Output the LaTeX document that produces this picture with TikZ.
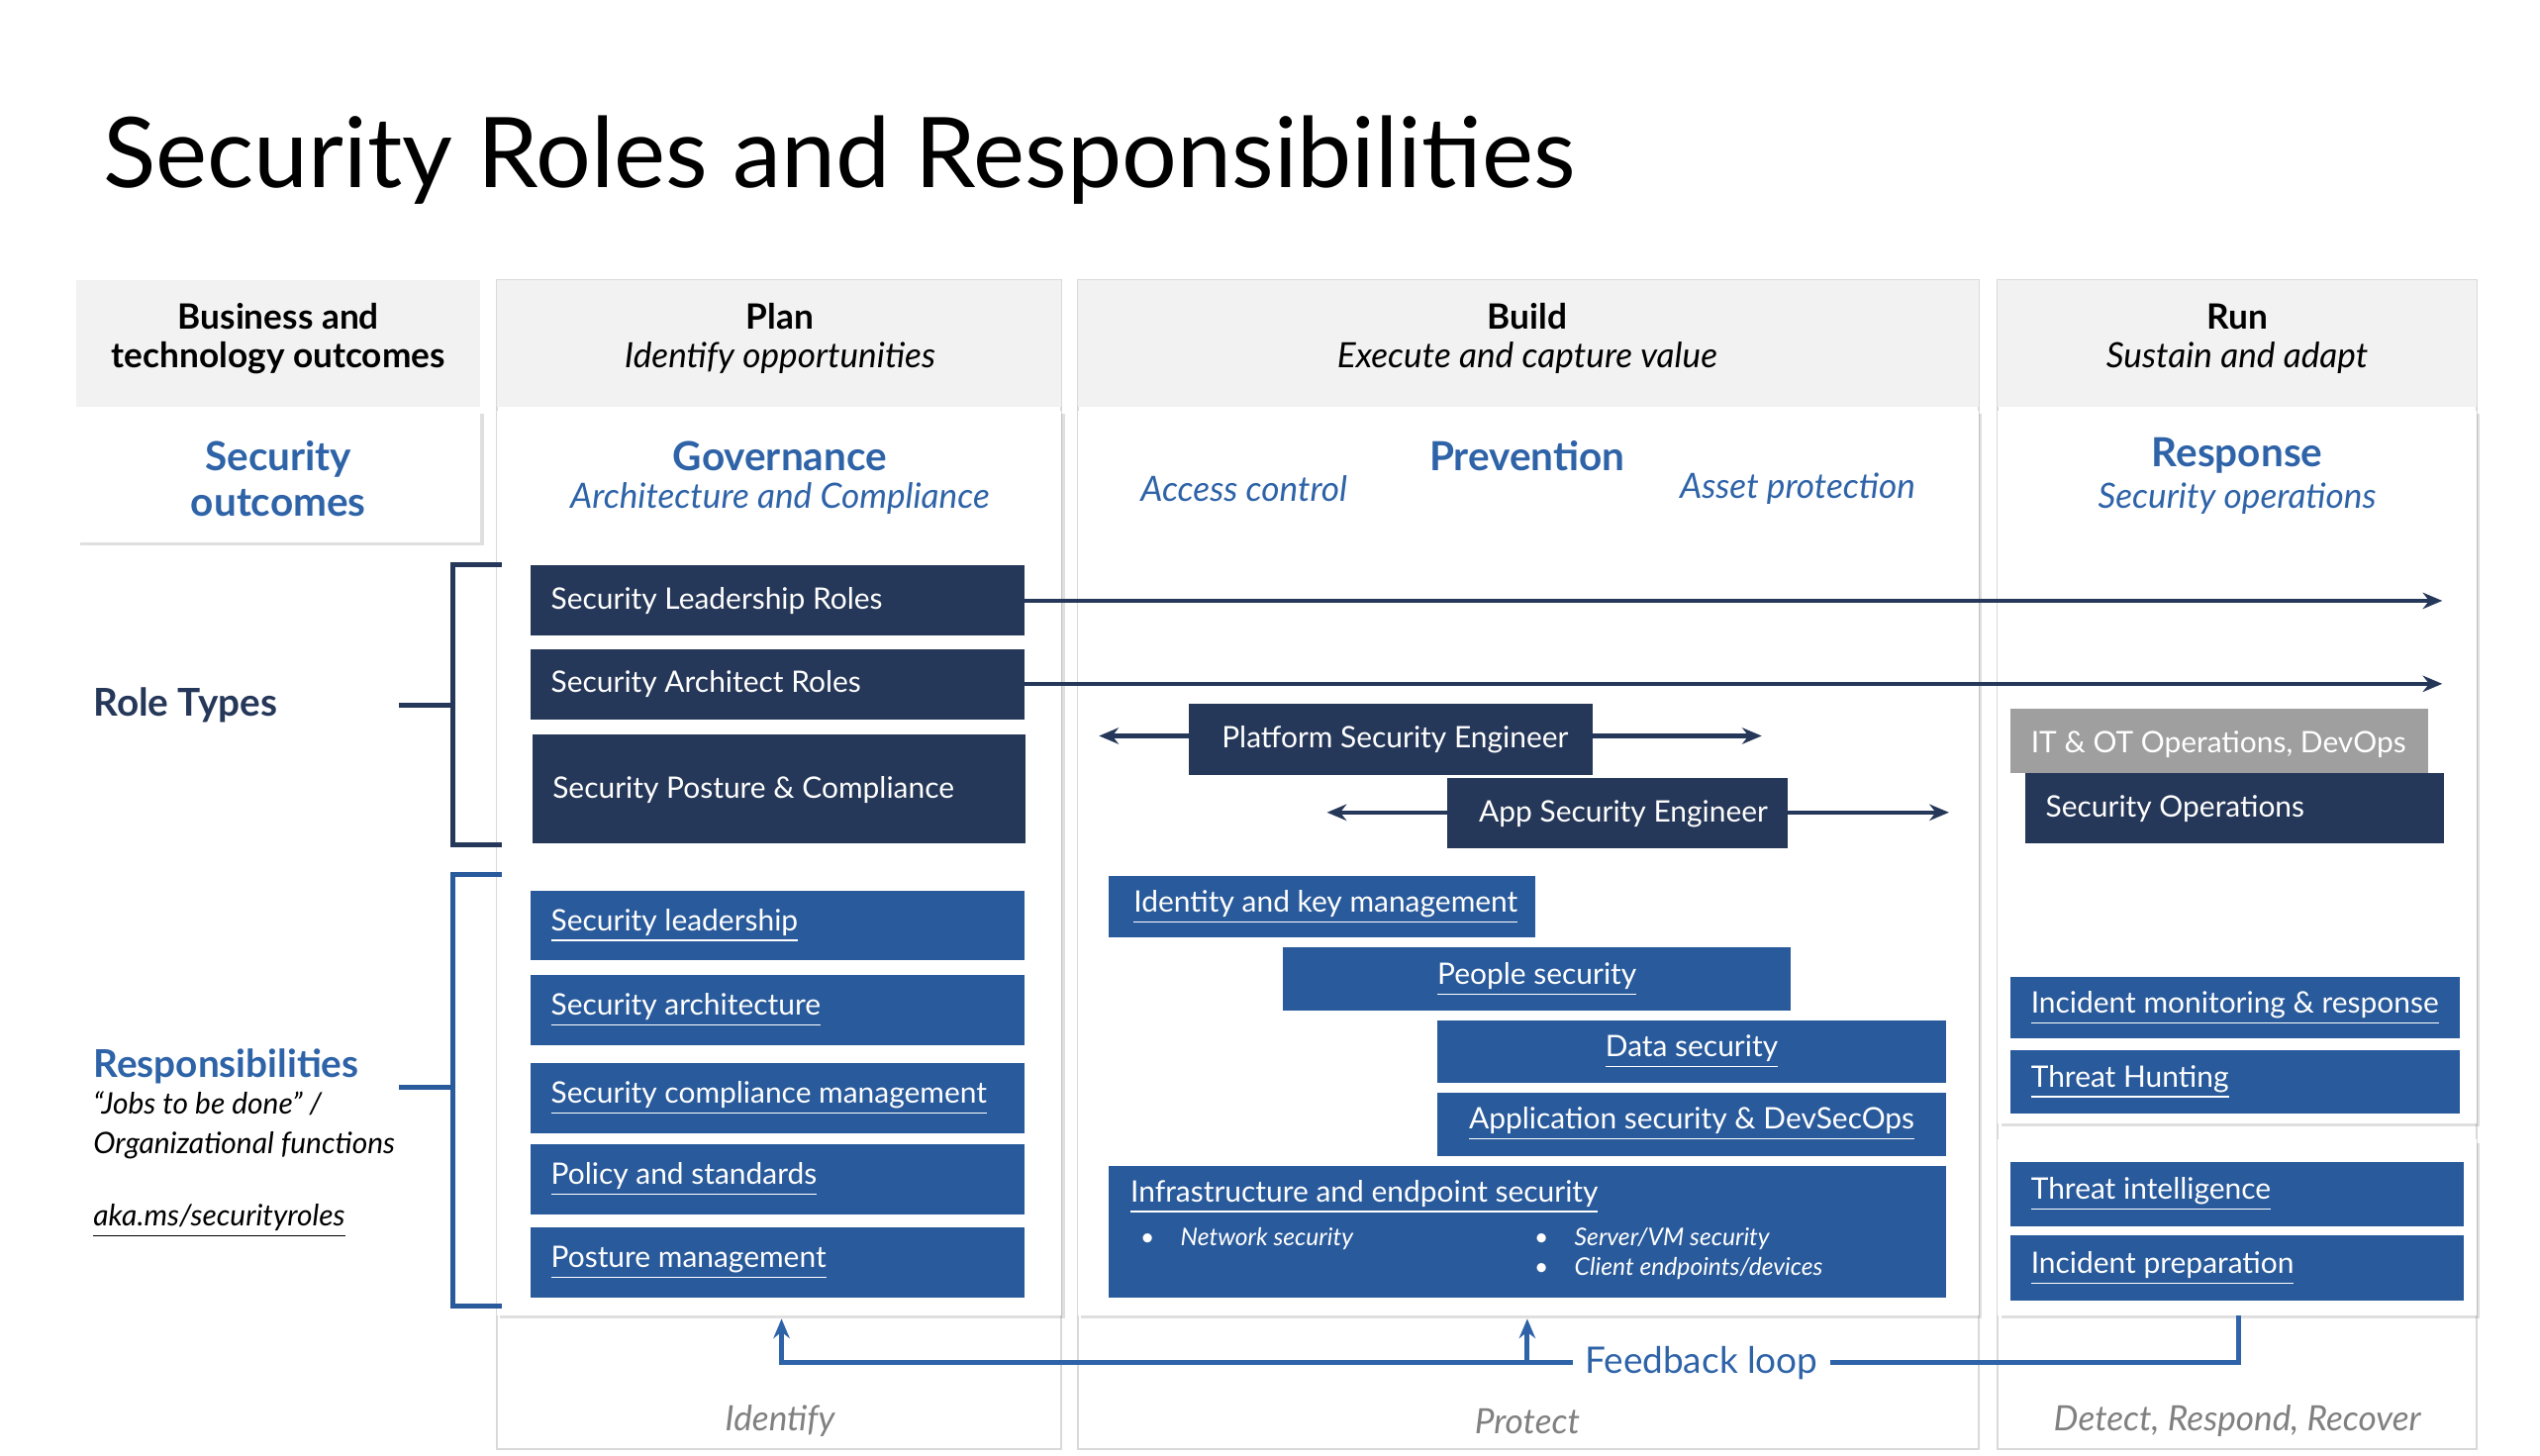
\documentclass[tikz,border=0pt]{standalone}
\usepackage{fontspec}
\setmainfont{Lato}[Scale=1.07]
\usetikzlibrary{shadows,arrows.meta}
\definecolor{navy}{HTML}{263859}
\definecolor{bblue}{HTML}{295A9B}
\definecolor{hblue}{HTML}{2E63A8}
\definecolor{hdr}{HTML}{F2F2F2}
\definecolor{lgray}{HTML}{D9D9D9}
\begin{document}
\begin{tikzpicture}[x=0.5pt,y=-0.5pt,
 card/.style={fill=white,drop shadow={shadow xshift=1pt,shadow yshift=-1pt,opacity=0.25,fill=gray}},
 dk/.style={fill=navy,draw=none},
 bl/.style={fill=bblue,draw=none},
 btxt/.style={text=white,font=\fontsize{8.5}{10}\selectfont,anchor=west,inner sep=0},
 ar/.style={navy,line width=1.3pt,-{Stealth[length=6pt,width=5pt]}},
 fb/.style={hblue,line width=1.5pt},
 hd/.style={font=\fontsize{10}{12}\selectfont,align=center},
 bh/.style={text=hblue,font=\bfseries\fontsize{11.5}{14}\selectfont,align=center},
 bi/.style={text=hblue,font=\itshape\fontsize{10}{12}\selectfont},
 gi/.style={text=gray,font=\itshape\fontsize{10}{12}\selectfont}]
\useasboundingbox (0,0) rectangle (1560,894);
\node[anchor=base west,inner sep=0,font=\fontsize{28}{32}\selectfont] (title) at (63,115) {Security Roles and Responsibilities};
\foreach \a/\b in {305/652,662/1215,1227/1521} \draw[lgray,line width=0.6pt] (\a,172) rectangle (\b,890);
\foreach \a/\b in {47/295,305/652,662/1215,1227/1521} \fill[hdr] (\a,172) rectangle (\b,250);
\node[hd,font=\bfseries\fontsize{10}{12}\selectfont] (h1) at (171,208) {Business and\\technology outcomes};
\node[hd] (h2) at (479,208) {\textbf{Plan}\\\textit{Identify opportunities}};
\node[hd] (h3) at (938,208) {\textbf{Build}\\\textit{Execute and capture value}};
\node[hd] (h4) at (1374,208) {\textbf{Run}\\\textit{Sustain and adapt}};
\path[card] (47,252) rectangle (295,333);
\path[card] (305,252) rectangle (652,808);
\path[card] (662,252) rectangle (1215,808);
\path[card] (1227,252) rectangle (1521,690);
\path[card] (1227,700) rectangle (1521,808);
\node[bh] (so) at (171,294) {Security\\outcomes};
\node[bh] (gov) at (479,280) {Governance};
\node[bi] (govi) at (479,306) {Architecture and Compliance};
\node[bh] (prev) at (938,280) {Prevention};
\node[bi] (ac) at (764,300) {Access control};
\node[bi] (ap) at (1104,300) {Asset protection};
\node[bh] (resp) at (1374,280) {Response};
\node[bi] (respi) at (1374,306) {Security operations};
\fill[dk] (326,347) rectangle (629,390); \node[btxt] (r1) at (338,369) {Security Leadership Roles};
\fill[dk] (326,399) rectangle (629,442); \node[btxt] (r2) at (338,420) {Security Architect Roles};
\fill[dk] (327,451) rectangle (630,518); \node[btxt] (r3) at (339,485) {Security Posture \& Compliance};
\fill[dk] (730,432) rectangle (978,476); \node[btxt] (r4) at (750,454) {Platform Security Engineer};
\fill[dk] (889,478) rectangle (1098,521); \node[btxt] (r5) at (908,500) {App Security Engineer};
\fill[gray!75] (1235,435) rectangle (1491,475); \node[btxt] (r6) at (1247,457) {IT \& OT Operations, DevOps};
\fill[dk] (1244,475) rectangle (1501,518); \node[btxt] (r7) at (1256,497) {Security Operations};
\coordinate (e1) at (1500,369); \coordinate (e2) at (1500,420);
\coordinate (p1) at (629,369); \coordinate (p2) at (629,420);
\draw[ar] (p1) -- (e1); \draw[ar] (p2) -- (e2);
\coordinate (a1) at (730,452); \coordinate (a1e) at (675,452);
\coordinate (a2) at (978,452); \coordinate (a2e) at (1082,452);
\coordinate (b1) at (889,499); \coordinate (b1e) at (815,499);
\coordinate (b2) at (1098,499); \coordinate (b2e) at (1197,499);
\draw[ar] (a1) -- (a1e); \draw[ar] (a2) -- (a2e);
\draw[ar] (b1) -- (b1e); \draw[ar] (b2) -- (b2e);
\foreach \xa/\ya/\xb/\yb/\tx/\t in {
326/547/629/590/338/Security leadership,
326/599/629/642/338/Security architecture,
326/653/629/696/338/Security compliance management,
326/703/629/746/338/Policy and standards,
326/754/629/797/338/Posture management,
681/538/943/576/696/Identity and key management,
1235/600/1511/638/1247/Incident monitoring \& response,
1235/645/1511/684/1247/Threat Hunting,
1235/714/1513/753/1247/Threat intelligence,
1235/759/1513/799/1247/Incident preparation}
{\fill[bl] (\xa,\ya) rectangle (\xb,\yb); \node[btxt] at (\tx,{(\ya+\yb)/2}) {\underline{\t}};}
\foreach \xa/\ya/\xb/\yb/\t in {
788/582/1100/621/People security,
883/627/1195/665/Data security,
883/671/1195/710/Application security \& DevSecOps}
{\fill[bl] (\xa,\ya) rectangle (\xb,\yb); \node[btxt,anchor=center] at ({(\xa+\xb)/2},{(\ya+\yb)/2}) {\underline{\t}};}
\fill[bl] (681,716) rectangle (1195,797);
\node[btxt] (inf) at (694,735) {\underline{Infrastructure and endpoint security}};
\node[btxt,font=\itshape\fontsize{7}{8}\selectfont] (n1) at (700,761) {\textbullet\hspace{8pt}Network security};
\node[btxt,font=\itshape\fontsize{7}{8}\selectfont] (n2) at (942,761) {\textbullet\hspace{8pt}Server/VM security};
\node[btxt,font=\itshape\fontsize{7}{8}\selectfont] (n3) at (942,779) {\textbullet\hspace{8pt}Client endpoints/devices};
\node[anchor=west,inner sep=0,text=navy,font=\bfseries\fontsize{11}{13}\selectfont] (rt) at (57,433) {Role Types};
\draw[navy,line width=1.5pt] (245,433) -- (278,433);
\draw[navy,line width=1.5pt] (308,347) -- (278,347) -- (278,519) -- (308,519);
\node[anchor=west,inner sep=0,text=hblue,font=\bfseries\fontsize{11}{13}\selectfont] (rs) at (57,655) {Responsibilities};
\node[anchor=north west,inner sep=0,align=left,font=\itshape\fontsize{8.5}{12}\selectfont] (jb) at (57,670) {“Jobs to be done” /\\Organizational functions};
\node[anchor=west,inner sep=0,font=\itshape\fontsize{8.5}{10}\selectfont] (ak) at (57,750) {\underline{aka.ms/securityroles}};
\draw[bblue,line width=1.5pt] (245,668) -- (278,668);
\draw[bblue,line width=1.5pt] (308,537) -- (278,537) -- (278,802) -- (308,802);
\node[text=hblue,font=\fontsize{10.5}{12}\selectfont] (fbl) at (1045,837) {Feedback loop};
\coordinate (f0) at (1375,808); \coordinate (f1) at (1375,837);
\coordinate (f2) at (480,837); \coordinate (f3) at (480,810);
\coordinate (f4) at (938,837); \coordinate (f5) at (938,810);
\draw[fb] (f0) -- (f1) -- (fbl.east);
\draw[fb,-{Stealth[length=6pt,width=5pt]}] (fbl.west) -- (f2) -- (f3);
\draw[fb,-{Stealth[length=6pt,width=5pt]}] (f4) -- (f5);
\node[gi] (b1t) at (479,873) {Identify};
\node[gi] (b2t) at (938,873) {Protect};
\node[gi] (b3t) at (1374,873) {Detect, Respond, Recover};
\end{tikzpicture}
\end{document}
